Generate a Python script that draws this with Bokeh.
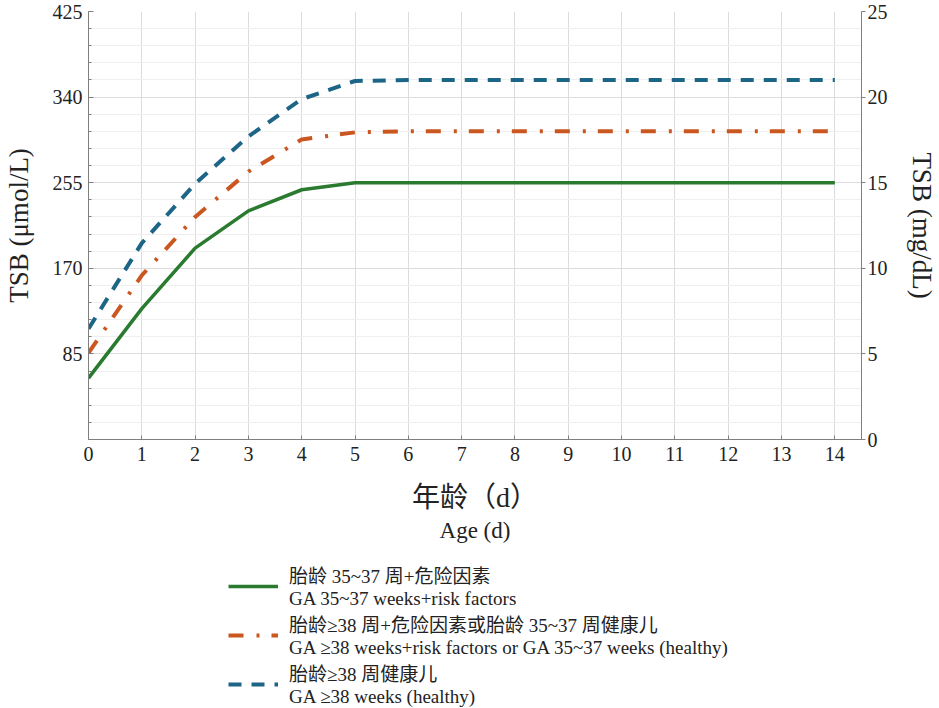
from bokeh.plotting import figure
from bokeh.layouts import column
from bokeh.models import Range1d, LinearAxis, FixedTicker, Legend, LegendItem
from bokeh.embed import file_html
from bokeh.resources import INLINE

# ---- data ----
days = list(range(0, 15))
tsb_risk_35_37 = [61, 130, 190, 227, 248, 255, 255, 255, 255, 255, 255, 255, 255, 255, 255]
tsb_risk_38_or_healthy_35_37 = [86, 163, 221, 266, 298, 305, 306, 306, 306, 306, 306, 306, 306, 306, 306]
tsb_healthy_38 = [110, 195, 254, 301, 338, 356, 357, 357, 357, 357, 357, 357, 357, 357, 357]
series = [tsb_risk_35_37, tsb_risk_38_or_healthy_35_37, tsb_healthy_38]

series_labels = [
    "胎龄 35~37 周+危险因素\nGA 35~37 weeks+risk factors",
    "胎龄≥38 周+危险因素或胎龄 35~37 周健康儿\nGA ≥38 weeks+risk factors or GA 35~37 weeks (healthy)",
    "胎龄≥38 周健康儿\nGA ≥38 weeks (healthy)",
]
x_ticks = list(range(0, 15))
umol_ticks = [85, 170, 255, 340, 425]
umol_minor = list(range(0, 426, 17))
mg_ticks = [0, 5, 10, 15, 20, 25]

SERIF = "Liberation Serif, Noto Sans CJK SC"
TXT = "#222222"
AX = "#7f7f7f"
STYLES = [dict(line_color="#2a7a30", line_width=3.5),
          dict(line_color="#c9571f", line_width=4, line_dash="15 13 3 12"),
          dict(line_color="#1d6587", line_width=4, line_dash="13 10")]

p = figure(width=939, height=555, x_range=Range1d(0, 14.5), y_range=Range1d(0, 425),
           output_backend="svg", toolbar_location=None,
           min_border_left=88, min_border_right=78, min_border_top=11, min_border_bottom=116)
p.outline_line_color = None
p.background_fill_color = "white"

p.extra_y_ranges = {"mg": Range1d(0, 25)}

# x axis
xa = p.xaxis[0]
xa.ticker = FixedTicker(ticks=x_ticks)
xa.major_tick_in = 4
xa.major_tick_out = 0
xa.minor_tick_line_color = None
xa.axis_line_color = AX
xa.major_tick_line_color = AX
xa.major_label_text_font = SERIF
xa.major_label_text_font_size = "20px"
xa.major_label_text_color = TXT
xa.major_label_standoff = 7
xa.axis_label = "年龄（d）"
xa.axis_label_text_font = SERIF
xa.axis_label_text_font_size = "28px"
xa.axis_label_text_font_style = "normal"
xa.axis_label_text_color = TXT
xa.axis_label_standoff = 18

# left axis
ya = p.yaxis[0]
ya.ticker = FixedTicker(ticks=umol_ticks, minor_ticks=umol_minor)
ya.major_tick_in = 5
ya.major_tick_out = 0
ya.minor_tick_in = 3
ya.minor_tick_out = 0
ya.axis_line_color = AX
ya.major_tick_line_color = AX
ya.minor_tick_line_color = AX
ya.major_label_text_font = SERIF
ya.major_label_text_font_size = "20px"
ya.major_label_text_color = TXT
ya.major_label_standoff = 6
ya.axis_label = "TSB (μmol/L)"
ya.axis_label_text_font = SERIF
ya.axis_label_text_font_size = "27px"
ya.axis_label_text_font_style = "normal"
ya.axis_label_text_color = TXT
ya.axis_label_standoff = 16

# right axis
ra = LinearAxis(y_range_name="mg", ticker=FixedTicker(ticks=mg_ticks),
                axis_label="TSB (mg/dL)")
ra.major_tick_in = 0
ra.major_tick_out = 4
ra.minor_tick_line_color = None
ra.axis_line_color = AX
ra.major_tick_line_color = AX
ra.major_label_text_font = SERIF
ra.major_label_text_font_size = "20px"
ra.major_label_text_color = TXT
ra.major_label_standoff = 2
ra.axis_label_text_font = SERIF
ra.axis_label_text_font_size = "27px"
ra.axis_label_text_font_style = "normal"
ra.axis_label_text_color = TXT
ra.axis_label_standoff = 16
p.add_layout(ra, "right")

# second x-axis title line
age = LinearAxis(ticker=FixedTicker(ticks=[]), axis_label="Age (d)")
age.axis_line_color = None
age.major_tick_line_color = None
age.minor_tick_line_color = None
age.axis_label_text_font = SERIF
age.axis_label_text_font_size = "23px"
age.axis_label_text_font_style = "normal"
age.axis_label_text_color = TXT
age.axis_label_standoff = 2
p.add_layout(age, "below")

# grids
p.xgrid.ticker = FixedTicker(ticks=x_ticks)
p.xgrid.grid_line_color = "#dcdcdc"
p.ygrid.grid_line_color = "#dcdcdc"
p.ygrid.minor_grid_line_color = "#efefef"

# lines
for s, st in zip(series, STYLES):
    p.line(days, s, **st)

# legend panel (separate figure below the chart); key lines lie outside its visible range
pl = figure(width=939, height=153, x_range=Range1d(0, 1), y_range=Range1d(-2, -1),
            output_backend="svg", toolbar_location=None, x_axis_type=None, y_axis_type=None,
            min_border_left=0, min_border_right=0, min_border_top=0, min_border_bottom=0)
pl.outline_line_color = None
pl.xgrid.visible = False
pl.ygrid.visible = False
keys = [pl.line(days, s, **st) for s, st in zip(series, STYLES)]

legend = Legend(items=[LegendItem(label=lab, renderers=[r]) for lab, r in zip(series_labels, keys)],
                location=(140, 0), glyph_width=50, glyph_height=20, label_standoff=11,
                spacing=0, padding=0, margin=0, border_line_color=None,
                background_fill_alpha=0, label_text_font=SERIF,
                label_text_font_size="19px", label_text_color=TXT)
pl.add_layout(legend, "center")

layout = column(p, pl, spacing=0)
open("out.html", "w").write(file_html(layout, INLINE))
